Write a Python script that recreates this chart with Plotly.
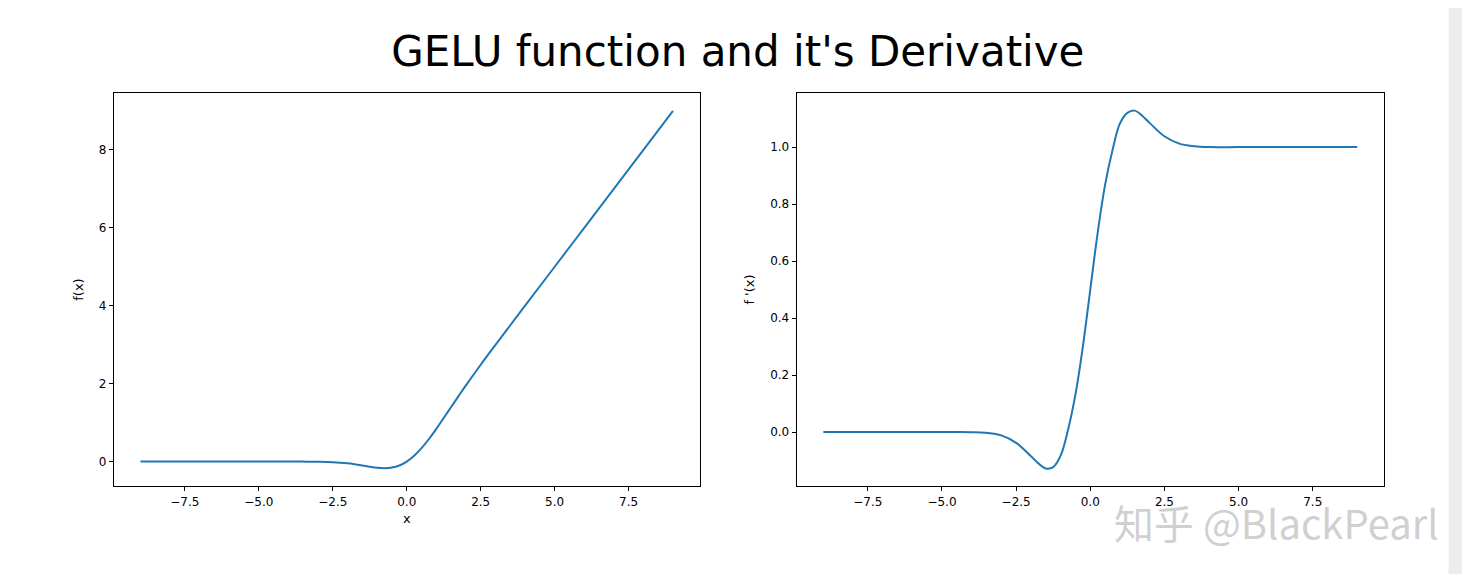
import plotly.graph_objects as go

x = [-9,-8,-7,-6,-5,-4.5,-4,-3.5,-3,-2.5,-2,-1.75,-1.5,-1.25,-1,-0.75,-0.5,-0.25,0,0.25,0.5,0.75,1,1.25,1.5,1.75,2,2.5,3,3.5,4,5,6,7,8,9]
gelu = [0,0,0,0,0,0,-0.0001,-0.0008,-0.004,-0.015,-0.045,-0.07,-0.10,-0.132,-0.159,-0.17,-0.154,-0.10,0,0.15,0.346,0.58,0.841,1.12,1.40,1.68,1.955,2.485,2.996,3.499,4.0,5,6,7,8,9]
dgelu = [0,0,0,0,0,0,-0.0005,-0.003,-0.012,-0.038,-0.085,-0.11,-0.128,-0.123,-0.083,0.008,0.132,0.30,0.5,0.70,0.868,0.99,1.083,1.12,1.128,1.11,1.085,1.038,1.012,1.003,1.0,1,1,1,1,1]

xt = [-7.5,-5,-2.5,0,2.5,5,7.5]
xtt = ["−7.5","−5.0","−2.5","0.0","2.5","5.0","7.5"]

fig = go.Figure()
line = dict(color="#1f77b4", width=2)
fig.add_trace(go.Scatter(x=x, y=gelu, mode="lines", line=line, line_shape="spline", xaxis="x", yaxis="y", showlegend=False))
fig.add_trace(go.Scatter(x=x, y=dgelu, mode="lines", line=line, line_shape="spline", xaxis="x2", yaxis="y2", showlegend=False))

ax = dict(showgrid=False, zeroline=False, showline=True, mirror=True, linecolor="black", linewidth=1,
          ticks="outside", ticklen=4, tickcolor="black", tickfont=dict(size=12, color="black"))
fig.update_layout(
    width=1470, height=574, margin=dict(l=0, r=0, t=0, b=0),
    paper_bgcolor="white", plot_bgcolor="white",
    font=dict(family="DejaVu Sans", color="black"),
    title=dict(text="GELU function and it's Derivative", x=0.4965, xanchor="center", y=0.925, yanchor="middle",
               font=dict(size=42, color="black")),
    xaxis=dict(ax, domain=[0.072, 0.4705], range=[-9.9, 9.9], tickvals=xt, ticktext=xtt,
               title=dict(text="x", font=dict(size=13), standoff=6)),
    yaxis=dict(ax, domain=[0.167, 0.852], range=[-0.63, 9.46], tickvals=[0,2,4,6,8],
               title=dict(text="f(x)", font=dict(size=13), standoff=12)),
    xaxis2=dict(ax, domain=[0.5365, 0.936], range=[-9.9, 9.9], tickvals=xt, ticktext=xtt, anchor="y2"),
    yaxis2=dict(ax, domain=[0.167, 0.852], range=[-0.19, 1.19], tickvals=[0,0.2,0.4,0.6,0.8,1.0],
                ticktext=["0.0","0.2","0.4","0.6","0.8","1.0"], anchor="x2",
                title=dict(text="f '(x)", font=dict(size=13), standoff=12)),
    annotations=[dict(text="知乎 @BlackPearl", x=0.975, y=0.105, xref="paper", yref="paper",
                      xanchor="right", yanchor="middle", showarrow=False,
                      font=dict(size=40, color="rgba(200,200,200,0.85)", family="Noto Sans CJK SC"))],
    shapes=[dict(type="rect", xref="paper", yref="paper", x0=0.98, x1=1, y0=0, y1=1,
                 fillcolor="#ececec", line=dict(width=0), layer="below")],
)
fig.write_html("out.html")
